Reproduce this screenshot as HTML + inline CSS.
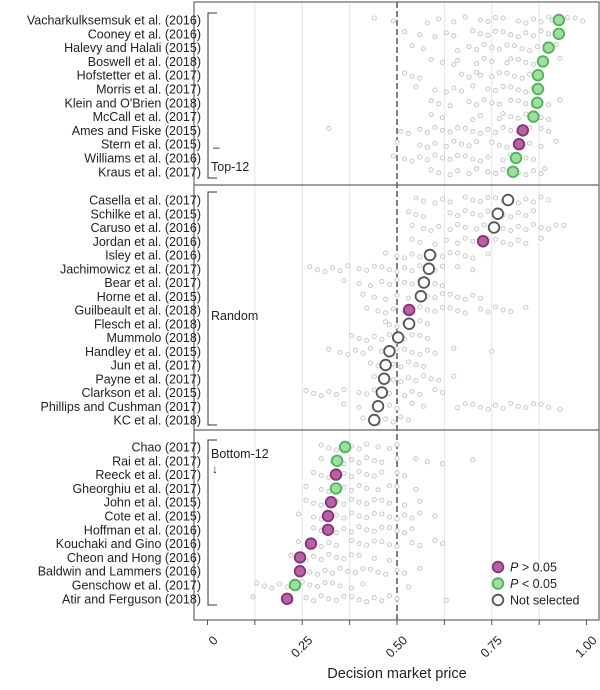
<!DOCTYPE html>
<html><head><meta charset="utf-8"><style>
body{margin:0;background:#fff}
svg text{font-family:"Liberation Sans",sans-serif;fill:#222}
</style></head><body>
<svg id="chart" width="600" height="685" viewBox="0 0 600 685">
<g id="grid"></g>
<g id="frame"></g>
<g id="dots"></g>
<g id="marks"></g>
<g id="labels"></g>
<g id="axis"></g>
<g id="legend"></g>
</svg>
<script>
const studies=["Vacharkulksemsuk et al. (2016)","Cooney et al. (2016)","Halevy and Halali (2015)","Boswell et al. (2018)","Hofstetter et al. (2017)","Morris et al. (2017)","Klein and O'Brien (2018)","McCall et al. (2017)","Ames and Fiske (2015)","Stern et al. (2015)","Williams et al. (2016)","Kraus et al. (2017)",
"Casella et al. (2017)","Schilke et al. (2015)","Caruso et al. (2016)","Jordan et al. (2016)","Isley et al. (2016)","Jachimowicz et al. (2017)","Bear et al. (2017)","Horne et al. (2015)","Guilbeault et al. (2018)","Flesch et al. (2018)","Mummolo (2018)","Handley et al. (2015)","Jun et al. (2017)","Payne et al. (2017)","Clarkson et al. (2015)","Phillips and Cushman (2017)","KC et al. (2018)",
"Chao (2017)","Rai et al. (2017)","Reeck et al. (2017)","Gheorghiu et al. (2017)","John et al. (2015)","Cote et al. (2015)","Hoffman et al. (2016)","Kouchaki and Gino (2016)","Cheon and Hong (2016)","Baldwin and Lammers (2016)","Genschow et al. (2017)","Atir and Ferguson (2018)"];
const prices=[0.927,0.927,0.90,0.885,0.872,0.872,0.87,0.86,0.832,0.822,0.814,0.806,
0.793,0.766,0.756,0.727,0.587,0.584,0.571,0.563,0.532,0.532,0.503,0.48,0.47,0.466,0.46,0.45,0.44,
0.363,0.342,0.339,0.339,0.326,0.318,0.318,0.273,0.244,0.244,0.231,0.21];
const status=["g","g","g","g","g","g","g","g","p","p","g","g",
"n","n","n","p","n","n","n","n","p","n","n","n","n","n","n","n","n",
"g","g","p","g","p","p","p","p","p","p","g","p"];
const predictions=[
[0.44,0.49,0.58,0.61,0.65,0.68,0.72,0.74,0.76,0.78,0.82,0.84,0.86,0.88,0.9,0.91,0.93,0.95,0.97,0.99],
[0.52,0.56,0.6,0.63,0.65,0.7,0.72,0.74,0.76,0.78,0.8,0.82,0.84,0.86,0.88,0.9,0.92],
[0.54,0.57,0.66,0.69,0.71,0.73,0.75,0.77,0.79,0.81,0.83,0.85,0.87,0.89,0.92],
[0.59,0.62,0.65,0.66,0.71,0.73,0.75,0.79,0.8,0.82,0.84,0.86,0.88,0.89,0.93],
[0.52,0.54,0.56,0.67,0.69,0.71,0.72,0.75,0.77,0.79,0.81,0.83,0.85,0.87],
[0.55,0.6,0.63,0.65,0.67,0.7,0.74,0.76,0.78,0.8,0.82,0.84,0.86,0.87],
[0.59,0.61,0.64,0.69,0.71,0.73,0.75,0.77,0.8,0.82,0.84,0.86,0.88,0.9,0.93],
[0.59,0.62,0.7,0.72,0.77,0.78,0.8,0.82,0.84,0.86,0.88,0.9],
[0.32,0.51,0.53,0.56,0.58,0.6,0.62,0.64,0.66,0.68,0.7,0.72,0.74,0.76,0.78,0.8,0.82,0.85,0.88,0.9],
[0.5,0.56,0.58,0.6,0.63,0.65,0.67,0.69,0.71,0.75,0.77,0.79,0.85,0.88,0.92],
[0.49,0.52,0.54,0.56,0.58,0.6,0.62,0.64,0.66,0.68,0.7,0.72,0.74,0.78,0.8,0.84,0.86],
[0.59,0.61,0.64,0.66,0.69,0.71,0.74,0.76,0.78,0.8,0.82,0.84,0.86,0.88,0.89],
[0.55,0.57,0.6,0.62,0.64,0.68,0.7,0.72,0.74,0.76,0.78,0.82,0.84,0.86,0.88,0.9],
[0.53,0.55,0.57,0.64,0.66,0.68,0.7,0.72,0.74,0.76,0.78,0.8,0.82,0.84,0.86],
[0.54,0.57,0.59,0.61,0.64,0.66,0.68,0.71,0.73,0.76,0.78,0.8,0.82,0.84,0.86,0.88,0.9,0.92,0.94],
[0.54,0.56,0.6,0.63,0.66,0.68,0.7,0.72,0.74,0.76,0.78,0.8,0.82,0.84,0.88],
[0.47,0.5,0.52,0.54,0.56,0.58,0.6,0.62,0.64,0.66,0.68,0.7,0.74],
[0.27,0.29,0.31,0.33,0.35,0.37,0.4,0.42,0.44,0.46,0.48,0.5,0.52,0.54,0.56,0.58,0.6,0.62,0.66,0.7],
[0.36,0.4,0.43,0.46,0.48,0.5,0.52,0.54,0.56,0.58,0.6,0.62],
[0.41,0.44,0.47,0.5,0.53,0.56,0.58,0.6,0.62,0.64,0.66,0.68,0.7,0.72],
[0.42,0.45,0.47,0.49,0.52,0.56,0.58,0.6,0.62,0.64,0.66,0.68,0.72,0.74,0.76,0.78,0.8,0.84],
[0.47,0.48,0.5,0.52,0.54,0.56,0.58],
[0.38,0.4,0.42,0.44,0.46,0.48,0.5,0.52,0.54,0.56,0.58],
[0.32,0.35,0.37,0.39,0.41,0.43,0.46,0.48,0.5,0.52,0.54,0.56,0.58,0.6,0.65,0.75],
[0.43,0.45,0.47,0.49,0.51,0.53,0.55,0.57],
[0.44,0.49,0.51,0.53,0.55,0.57,0.59,0.61,0.65],
[0.26,0.28,0.3,0.32,0.34,0.36,0.4,0.42,0.44,0.46,0.48,0.52,0.54,0.56,0.6,0.62],
[0.36,0.4,0.45,0.48,0.5,0.54,0.57,0.66,0.68,0.7,0.72,0.74,0.76,0.78,0.8,0.82,0.84,0.86,0.88,0.9,0.93],
[0.41,0.43,0.45,0.47,0.49,0.51,0.53],
[0.3,0.32,0.34,0.38,0.4,0.42,0.45,0.48,0.5],
[0.3,0.33,0.36,0.38,0.4,0.42,0.44,0.46,0.5,0.55,0.58,0.62,0.7],
[0.28,0.3,0.32,0.36,0.38,0.4,0.42,0.44,0.46,0.5,0.52],
[0.26,0.3,0.32,0.36,0.38,0.4,0.42,0.45,0.48,0.5,0.55],
[0.26,0.28,0.3,0.34,0.36,0.38,0.4,0.42,0.44,0.46,0.48,0.52,0.56],
[0.24,0.28,0.3,0.34,0.36,0.38,0.4,0.42,0.44,0.46,0.48,0.5,0.52,0.54,0.56,0.6],
[0.28,0.3,0.34,0.36,0.38,0.4,0.42,0.44,0.46,0.48,0.5,0.52,0.54],
[0.24,0.28,0.3,0.32,0.34,0.38,0.4,0.42,0.44,0.46,0.48,0.5,0.54,0.56,0.6,0.62],
[0.22,0.24,0.26,0.28,0.3,0.32,0.34,0.36,0.38,0.4,0.44,0.48],
[0.25,0.27,0.29,0.31,0.33,0.35,0.37,0.39,0.41,0.43,0.45,0.47,0.5,0.52,0.56],
[0.13,0.15,0.17,0.19,0.21,0.25,0.27,0.29,0.31,0.33,0.35,0.38,0.41,0.53],
[0.12,0.2,0.22,0.26,0.28,0.3,0.32,0.34,0.36,0.38,0.4,0.42,0.44,0.46,0.48,0.5,0.63,0.77]];
const tickValues=[0,0.25,0.5,0.75,1];
const tickLabels=["0","0.25","0.50","0.75","1.00"];
const legendLabels=["P > 0.05","P < 0.05","Not selected"];

const NS="http://www.w3.org/2000/svg";
const X=v=>207.5+v*379;
function Y(i){ if(i<12) return 20+i*13.8; if(i<29) return 200+(i-12)*13.75; return 447+(i-29)*13.8; }
function mk(tag,attrs,parent){const e=document.createElementNS(NS,tag);for(const k in attrs)e.setAttribute(k,attrs[k]);parent.appendChild(e);return e;}
const grid=document.getElementById('grid'),frame=document.getElementById('frame'),dots=document.getElementById('dots'),marks=document.getElementById('marks'),labels=document.getElementById('labels'),axis=document.getElementById('axis'),legend=document.getElementById('legend');
for(let k=1;k<8;k++){ if(k===4) continue; const gl=mk('line',{x1:X(k/8),x2:X(k/8),y1:2,y2:620,stroke:'#e4e4e4','stroke-width':1},grid);

}
const ref=mk('line',{x1:X(0.5),x2:X(0.5),y1:2,y2:620,stroke:'#555','stroke-width':1.5,'stroke-dasharray':'6,3'},grid);


const box=mk('rect',{x:194,y:2,width:405,height:618,fill:'none',stroke:'#666','stroke-width':1.2},frame);


[185,430].forEach(y=>{const s=mk('line',{x1:194,x2:599,y1:y,y2:y,stroke:'#666','stroke-width':1.2},frame);

});
// brackets
[[13,178],[192,425],[440,605]].forEach(b=>{const p=mk('path',{d:`M217,${b[0]}H208V${b[1]}H217`,fill:'none',stroke:'#333','stroke-width':1},frame);

});
function txt(s,x,y,attrs,parent,name){const t=mk('text',Object.assign({x:x,y:y},attrs),parent);t.textContent=s;

return t;}
txt('–',213,151,{'font-size':12},frame,'top-dash');
txt('Top-12',211,171,{'font-size':12.5},frame,'top-12-label');
txt('Random',211,320,{'font-size':12.5},frame,'random-label');
txt('Bottom-12',211,458,{'font-size':12.5},frame,'bottom-12-label');
txt('↓',212,473,{'font-size':12},frame,'bottom-arrow');
const jit=[-2,1,3,-1,2,-3,0,1.5,-2.5];
predictions.forEach((row,i)=>{row.forEach((v,j)=>{const c=mk('circle',{cx:X(v),cy:Y(i)+jit[j%9],r:2.1,fill:'#fafafa',stroke:'#bdbdbd','stroke-width':0.8},dots);

});});
const sty={p:['#b4649e','#8c2f7c'],g:['#a3dca3','#4cb45a'],n:['#ffffff','#555555']};
prices.forEach((v,i)=>{const s=sty[status[i]];const c=mk('circle',{cx:X(v),cy:Y(i),r:5.3,fill:s[0],stroke:s[1],'stroke-width':1.8},marks);


txt(studies[i],201,Y(i)+4.5,{'font-size':12.5,'text-anchor':'end'},labels,'study-label');});
for(let k=0;k<=8;k++){const t=mk('line',{x1:X(k/8),x2:X(k/8),y1:620,y2:625,stroke:'#555','stroke-width':1},axis);

}
tickValues.forEach((v,i)=>{const x=X(v)+4,y=634;txt(tickLabels[i],x,y,{'font-size':12.5,'text-anchor':'end',transform:`rotate(-45 ${x} ${y})`,dy:'0.8em'},axis,'x-tick-label');});
txt('Decision market price',X(0.5),678,{'font-size':14.5,'text-anchor':'middle'},axis,'x-axis-title');
const lc=[sty.p,sty.g,sty.n];
legendLabels.forEach((l,i)=>{const y=567+i*16.5;const c=mk('circle',{cx:498,cy:y,r:5.3,fill:lc[i][0],stroke:lc[i][1],'stroke-width':1.8},legend);


const t=txt('',510,y+4.5,{'font-size':12.5},legend,'legend-entry');
if(i<2){const ts=mk('tspan',{'font-style':'italic'},t);ts.textContent='P';const r=mk('tspan',{},t);r.textContent=l.slice(1);}else t.textContent=l;});
</script>
</body></html>
